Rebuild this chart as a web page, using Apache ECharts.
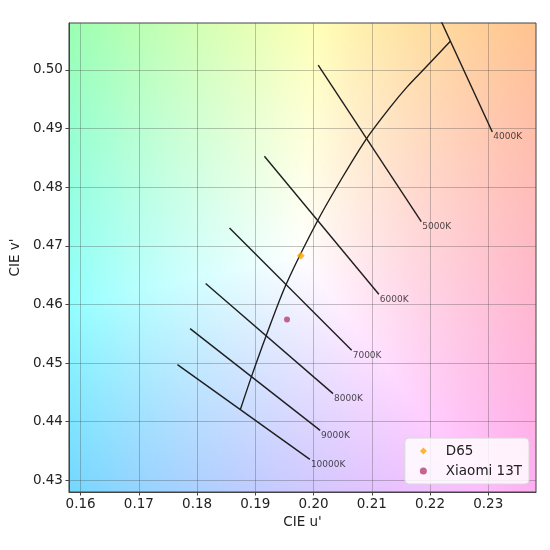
<!DOCTYPE html>
<html>
<head>
<meta charset="utf-8">
<script src="https://cdn.jsdelivr.net/npm/echarts@6/dist/echarts.min.js"></script>
<style>
html,body{margin:0;padding:0;background:#fff;}
#chart{width:550px;height:550px;}
</style>
</head>
<body>
<div id="chart"></div>
<script>
// ---- data ----
const U_MIN = 0.158, U_MAX = 0.2382;
const V_MIN = 0.428, V_MAX = 0.508;
const xTicks = [0.16, 0.17, 0.18, 0.19, 0.20, 0.21, 0.22, 0.23];
const yTicks = [0.43, 0.44, 0.45, 0.46, 0.47, 0.48, 0.49, 0.50];

// Planckian locus (from ~10000K up to ~4000K)
const locusU = [0.18745, 0.18928, 0.19185, 0.19530, 0.20074, 0.20510, 0.20911, 0.21321, 0.21607, 0.21891, 0.22176, 0.22350];
const locusV = [0.44210, 0.44751, 0.45461, 0.46343, 0.47435, 0.48190, 0.48829, 0.49369, 0.49710, 0.50007, 0.50307, 0.50490];

// iso-temperature lines
const isoNames  = ['4000K', '5000K', '6000K', '7000K', '8000K', '9000K', '10000K'];
const isoStartU = [0.21630, 0.20080, 0.19156, 0.18557, 0.18147, 0.17880, 0.17663];
const isoStartV = [0.52040, 0.50080, 0.48527, 0.47304, 0.46355, 0.45587, 0.44973];
const isoEndU   = [0.23070, 0.21850, 0.21121, 0.20655, 0.20335, 0.20113, 0.19937];
const isoEndV   = [0.48940, 0.47410, 0.46172, 0.45217, 0.44478, 0.43851, 0.43357];

// measured points
const pointNames  = ['D65', 'Xiaomi 13T'];
const pointU      = [0.19780, 0.19544];
const pointV      = [0.46830, 0.45741];
const pointColors = ['#ffa500', '#b8406e'];
const pointSymbols = ['diamond', 'circle'];

// ---- background chromaticity image ----
function srgbEncode(c) {
  c = Math.max(0, Math.min(1, c));
  return c <= 0.0031308 ? 12.92 * c : 1.055 * Math.pow(c, 1 / 2.4) - 0.055;
}
function uvToRGB(u, v) {
  const d = 6 * u - 16 * v + 12;
  const x = 9 * u / d, y = 4 * v / d;
  const X = x / y, Y = 1, Z = (1 - x - y) / y;
  let r = 3.2406 * X - 1.5372 * Y - 0.4986 * Z;
  let g = -0.9689 * X + 1.8758 * Y + 0.0415 * Z;
  let b = 0.0557 * X - 0.2040 * Y + 1.0570 * Z;
  const m = Math.max(r, g, b);
  r /= m; g /= m; b /= m;
  return [srgbEncode(r) * 255, srgbEncode(g) * 255, srgbEncode(b) * 255];
}
const BG_N = 240;
const bgCanvas = document.createElement('canvas');
bgCanvas.width = BG_N; bgCanvas.height = BG_N;
(function () {
  const ctx = bgCanvas.getContext('2d');
  const img = ctx.createImageData(BG_N, BG_N);
  for (let j = 0; j < BG_N; j++) {
    const v = V_MAX - (j + 0.5) / BG_N * (V_MAX - V_MIN);
    for (let i = 0; i < BG_N; i++) {
      const u = U_MIN + (i + 0.5) / BG_N * (U_MAX - U_MIN);
      const c = uvToRGB(u, v);
      const k = (j * BG_N + i) * 4;
      img.data[k] = c[0]; img.data[k + 1] = c[1]; img.data[k + 2] = c[2]; img.data[k + 3] = 255;
    }
  }
  ctx.putImageData(img, 0, 0);
})();

const FONT = 'DejaVu Sans';
const LINE_COLOR = '#1e1e1e';
const LINE_W = 1.4;

const series = [];
series.push({
  type: 'custom',
  name: 'bg',
  z: -1,
  silent: true,
  data: [[U_MIN, V_MIN, U_MAX, V_MAX]],
  renderItem: function (params, api) {
    const p0 = api.coord([api.value(0), api.value(3)]);
    const p1 = api.coord([api.value(2), api.value(1)]);
    return {
      type: 'image',
      style: { image: bgCanvas, x: p0[0], y: p0[1], width: p1[0] - p0[0], height: p1[1] - p0[1] }
    };
  }
});
series.push({
  type: 'line',
  name: 'locus',
  data: locusU.map((u, i) => [u, locusV[i]]),
  showSymbol: false,
  smooth: 0.3,
  lineStyle: { color: LINE_COLOR, width: LINE_W },
  z: 3,
  silent: true
});
isoNames.forEach((n, i) => {
  series.push({
    type: 'line',
    name: n,
    data: [[isoStartU[i], isoStartV[i]], [isoEndU[i], isoEndV[i]]],
    showSymbol: false,
    lineStyle: { color: LINE_COLOR, width: LINE_W },
    z: 3,
    silent: true
  });
});
series.push({
  type: 'scatter',
  name: 'isoLabels',
  data: isoNames.map((n, i) => ({ value: [isoEndU[i], isoEndV[i]], name: n })),
  symbolSize: 1,
  itemStyle: { color: 'rgba(0,0,0,0)' },
  label: {
    show: true,
    formatter: '{b}',
    position: [1.5, 1],
    align: 'left',
    verticalAlign: 'top',
    fontFamily: FONT,
    fontSize: 9,
    color: '#1a1a1a'
  },
  z: 4,
  silent: true
});
pointNames.forEach((n, i) => {
  series.push({
    type: 'scatter',
    name: n,
    data: [[pointU[i], pointV[i]]],
    symbol: pointSymbols[i],
    symbolSize: i === 0 ? 8 : 6,
    itemStyle: { color: pointColors[i] },
    z: 5
  });
});

const axisCommon = {
  type: 'value',
  axisLine: { show: true, onZero: false, lineStyle: { color: '#444', width: 1 } },
  axisTick: { show: true, length: 3.5, lineStyle: { color: '#444' } },
  splitLine: { show: true, lineStyle: { color: 'rgba(70,70,70,0.32)', width: 1 } },
  nameLocation: 'middle',
  nameTextStyle: { fontFamily: FONT, fontSize: 13.5, color: '#222' }
};

const option = {
  animation: false,
  backgroundColor: '#fff',
  grid: {
    left: 67, right: 14, top: 23, bottom: 58,
    show: true, borderColor: '#444', borderWidth: 1, backgroundColor: 'transparent'
  },
  xAxis: Object.assign({}, axisCommon, {
    min: U_MIN, max: U_MAX,
    name: "CIE u'",
    nameGap: 20,
    axisTick: Object.assign({}, axisCommon.axisTick, { customValues: xTicks }),
    axisLabel: { customValues: xTicks, formatter: v => v.toFixed(2), fontFamily: FONT, fontSize: 13.5, color: '#222', margin: 5 }
  }),
  yAxis: Object.assign({}, axisCommon, {
    min: V_MIN, max: V_MAX,
    name: "CIE v'",
    nameGap: 42,
    axisTick: Object.assign({}, axisCommon.axisTick, { customValues: yTicks }),
    axisLabel: { customValues: yTicks, formatter: v => v.toFixed(2), fontFamily: FONT, fontSize: 13.5, color: '#222', margin: 6 }
  }),
  legend: {
    orient: 'vertical',
    right: 21,
    bottom: 66,
    data: pointNames,
    itemWidth: 7,
    itemHeight: 7,
    itemGap: 6,
    padding: [6, 7, 6, 15],
    backgroundColor: 'rgba(255,255,255,0.82)',
    borderColor: '#d8d8d8',
    borderWidth: 1,
    borderRadius: 4,
    textStyle: { fontFamily: FONT, fontSize: 13.5, color: '#222', padding: [0, 0, 0, 14] }
  },
  series: series
};

const chart = echarts.init(document.getElementById('chart'), null, { renderer: 'canvas' });
chart.setOption(option);
</script>
</body>
</html>
